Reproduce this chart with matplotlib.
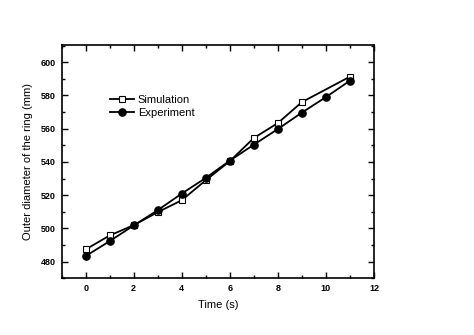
import numpy as np
import matplotlib.pyplot as plt
from matplotlib.ticker import MultipleLocator

plt.rcParams['font.family'] = ['Liberation Sans', 'DejaVu Sans']

# data
sim_t = [0, 1, 2, 3, 4, 5, 6, 7, 8, 9, 11]
sim_d = [487.4, 495.8, 502.0, 509.8, 517.0, 529.0, 540.5, 554.4, 563.4, 576.0, 591.3]

exp_t = [0, 1, 2, 3, 4, 5, 6, 7, 8, 9, 10, 11]
exp_d = [483.4, 492.4, 501.8, 511.0, 521.0, 530.4, 540.8, 550.4, 559.8, 569.7, 579.0, 588.9]

fig = plt.figure(figsize=(4.74, 3.35), dpi=100)
ax = fig.add_axes([0.130, 0.169, 0.659, 0.696])

ax.plot(sim_t, sim_d, 's-', color='black', lw=1.3, ms=4.6,
        mfc='white', mec='black', mew=0.8, label='Simulation')
ax.plot(exp_t, exp_d, 'o-', color='black', lw=1.3, ms=5.2,
        mfc='black', mec='black', label='Experiment')

ax.set_xlim(-1, 12)
ax.set_ylim(470, 610.2)
ax.xaxis.set_major_locator(MultipleLocator(2))
ax.xaxis.set_minor_locator(MultipleLocator(1))
ax.yaxis.set_major_locator(MultipleLocator(20))
ax.yaxis.set_minor_locator(MultipleLocator(10))

ax.tick_params(which='both', direction='in', top=True, right=True, width=1)
ax.tick_params(which='major', length=4, labelsize=6.5, pad=4)
ax.tick_params(which='minor', length=2)
for lab in ax.get_xticklabels() + ax.get_yticklabels():
    lab.set_fontweight('bold')
for sp in ax.spines.values():
    sp.set_linewidth(1.2)

ax.set_xlabel('Time (s)', fontsize=8, labelpad=5)
ax.set_ylabel('Outer diameter of the ring (mm)', fontsize=8, labelpad=6)

ax.legend(loc='upper left', bbox_to_anchor=(0.13, 0.82), frameon=False,
          fontsize=8, handlelength=2.2, handletextpad=0.3,
          labelspacing=0.3, borderpad=0.2)

fig.savefig('out.png', dpi=100)
